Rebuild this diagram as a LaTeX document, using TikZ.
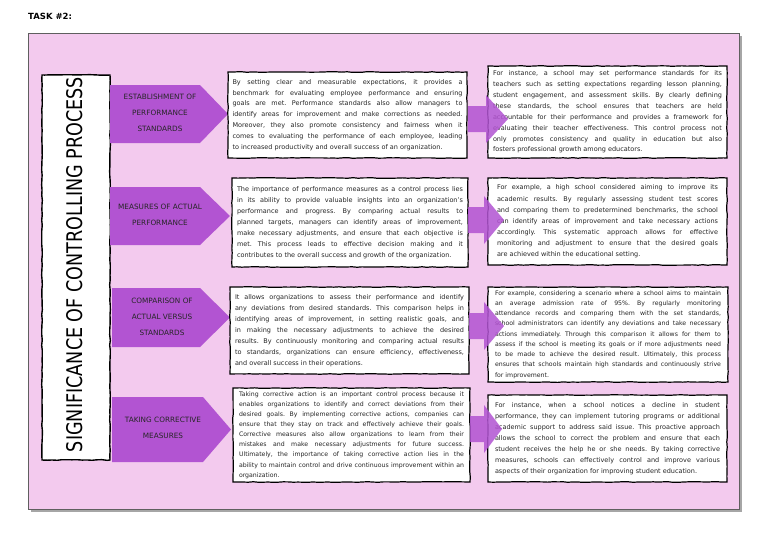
\documentclass[tikz,border=0pt]{standalone}
\usepackage{fontspec}
\usepackage{graphicx}
\setmainfont{DejaVu Sans}
\usetikzlibrary{decorations.pathmorphing}
\definecolor{bgpink}{RGB}{243,202,238}
\definecolor{arrowpurple}{RGB}{178,84,210}
\definecolor{framegray}{RGB}{95,95,95}
\newcommand\bodyfnt[2]{\fontsize{#1}{#2}\selectfont\frenchspacing\tolerance=10000\hbadness=10000\hyphenpenalty=10000\relax}
\tikzset{
  sketch/.style={decorate, decoration={random steps, segment length=5pt, amplitude=0.35pt}},
  textbox/.style={draw=black, line width=1.2pt, fill=white, sketch, align=justify, inner ysep=3pt, anchor=center, text=black!85},
  labelarrow/.style={fill=arrowpurple},
  linkarrow/.style={fill=arrowpurple, fill opacity=0.86},
  labeltext/.style={align=center, font=\fontsize{7.3}{16}\selectfont, text=black!85, inner sep=0pt},
}
\begin{document}
\begin{tikzpicture}[x=1pt,y=-1pt]
\pgfmathsetseed{42}
\useasboundingbox (0,0) rectangle (768,544);
% title
\node[anchor=west, font=\bfseries\fontsize{8.5}{10}\selectfont, inner sep=0pt] (task) at (28,16) {TASK \#2:};
% frame
\fill[gray!70] (30.5,35.5) rectangle (741.5,511.5);
\draw[fill=bgpink, draw=framegray, line width=1pt] (28,33) rectangle (739.5,509.5);
% vertical title box
\node[draw=black, line width=1.4pt, fill=white, sketch, minimum width=68pt, minimum height=385pt, inner sep=0pt] (vbox) at (76,267.5) {};
\node[rotate=90, inner sep=0pt] (vtitle) at (75,264.5) {\resizebox{375pt}{16pt}{SIGNIFICANCE OF CONTROLLING PROCESS}};
% left label arrows
\fill[labelarrow] (110,85) -- (200,85) -- (228,114) -- (200,143) -- (110,143) -- cycle;
\node[labeltext] (l1) at (160,113) {ESTABLISHMENT OF\\PERFORMANCE\\STANDARDS};
\fill[labelarrow] (110,187) -- (200,187) -- (230,216) -- (200,245) -- (110,245) -- cycle;
\node[labeltext] (l2) at (160,215) {MEASURES OF ACTUAL\\PERFORMANCE};
\fill[labelarrow] (112,288) -- (200,288) -- (230,317.5) -- (200,347) -- (112,347) -- cycle;
\node[labeltext] (l3) at (162,317) {COMPARISON OF\\ACTUAL VERSUS\\STANDARDS};
\fill[labelarrow] (112,397) -- (203,397) -- (231,429.5) -- (203,462) -- (112,462) -- cycle;
\node[labeltext] (l4) at (163,427.5) {TAKING CORRECTIVE\\MEASURES};
% middle boxes
\node[textbox, text width=230pt, inner xsep=4.5pt, minimum height=86pt, font={\bodyfnt{6.5}{10.8}}] (m1) at (347.5,115) {By setting clear and measurable expectations, it provides a\linebreak
benchmark for evaluating employee performance and ensuring\linebreak
goals are met. Performance standards also allow managers to\linebreak
identify areas for improvement and make corrections as needed.\linebreak
Moreover, they also promote consistency and fairness when it\linebreak
comes to evaluating the performance of each employee, leading\linebreak
to increased productivity and overall success of an organization.};
\node[textbox, text width=226pt, inner xsep=5pt, minimum height=89pt, font={\bodyfnt{6.5}{11}}] (m2) at (350,222.5) {The importance of performance measures as a control process lies\linebreak
in its ability to provide valuable insights into an organization's\linebreak
performance and progress. By comparing actual results to\linebreak
planned targets, managers can identify areas of improvement,\linebreak
make necessary adjustments, and ensure that each objective is\linebreak
met. This process leads to effective decision making and it\linebreak
contributes to the overall success and growth of the organization.};
\node[textbox, text width=229pt, inner xsep=5pt, minimum height=87pt, font={\bodyfnt{6.5}{11}}] (m3) at (349.5,330.5) {It allows organizations to assess their performance and identify\linebreak
any deviations from desired standards. This comparison helps in\linebreak
identifying areas of improvement, in setting realistic goals, and\linebreak
in making the necessary adjustments to achieve the desired\linebreak
results. By continuously monitoring and comparing actual results\linebreak
to standards, organizations can ensure efficiency, effectiveness,\linebreak
and overall success in their operations.};
\node[textbox, text width=225pt, inner xsep=6pt, minimum height=94pt, font={\bodyfnt{6.2}{10.1}}] (m4) at (351.5,435) {Taking corrective action is an important control process because it\linebreak
enables organizations to identify and correct deviations from their\linebreak
desired goals. By implementing corrective actions, companies can\linebreak
ensure that they stay on track and effectively achieve their goals.\linebreak
Corrective measures also allow organizations to learn from their\linebreak
mistakes and make necessary adjustments for future success.\linebreak
Ultimately, the importance of taking corrective action lies in the\linebreak
ability to maintain control and drive continuous improvement within an\linebreak
organization.};
% right boxes
\node[textbox, text width=229pt, inner xsep=5pt, minimum height=92pt, font={\bodyfnt{6.5}{10.9}}] (r1) at (607.5,112) {For instance, a school may set performance standards for its\linebreak
teachers such as setting expectations regarding lesson planning,\linebreak
student engagement, and assessment skills. By clearly defining\linebreak
these standards, the school ensures that teachers are held\linebreak
accountable for their performance and provides a framework for\linebreak
evaluating their teacher effectiveness. This control process not\linebreak
only promotes consistency and quality in education but also\linebreak
fosters professional growth among educators.};
\node[textbox, text width=221pt, inner xsep=9pt, minimum height=87pt, font={\bodyfnt{6.5}{11.1}}] (r2) at (607.5,221.5) {For example, a high school considered aiming to improve its\linebreak
academic results. By regularly assessing student test scores\linebreak
and comparing them to predetermined benchmarks, the school\linebreak
can identify areas of improvement and take necessary actions\linebreak
accordingly. This systematic approach allows for effective\linebreak
monitoring and adjustment to ensure that the desired goals\linebreak
are achieved within the educational setting.};
\node[textbox, text width=226pt, inner xsep=7pt, minimum height=95pt, font={\bodyfnt{6.2}{10.25}}] (r3) at (608,334.5) {For example, considering a scenario where a school aims to maintain\linebreak
an average admission rate of 95\%. By regularly monitoring\linebreak
attendance records and comparing them with the set standards,\linebreak
school administrators can identify any deviations and take necessary\linebreak
actions immediately. Through this comparison it allows for them to\linebreak
assess if the school is meeting its goals or if more adjustments need\linebreak
to be made to achieve the desired result. Ultimately, this process\linebreak
ensures that schools maintain high standards and continuously strive\linebreak
for improvement.};
\node[textbox, text width=225pt, inner xsep=7pt, minimum height=87pt, font={\bodyfnt{6.5}{10.9}}] (r4) at (607.5,438.5) {For instance, when a school notices a decline in student\linebreak
performance, they can implement tutoring programs or additional\linebreak
academic support to address said issue. This proactive approach\linebreak
allows the school to correct the problem and ensure that each\linebreak
student receives the help he or she needs. By taking corrective\linebreak
measures, schools can effectively control and improve various\linebreak
aspects of their organization for improving student education.};
% link arrows between middle and right boxes
\fill[linkarrow] (468,106) -- (486,106) -- (486,95) -- (508,119) -- (486,143) -- (486,132) -- (468,132) -- cycle;
\fill[linkarrow] (468,207) -- (484,207) -- (484,196) -- (504,220) -- (484,244) -- (484,233) -- (468,233) -- cycle;
\fill[linkarrow] (469,313) -- (484,313) -- (484,302) -- (504,326) -- (484,350) -- (484,339) -- (469,339) -- cycle;
\fill[linkarrow] (470,416) -- (484,416) -- (484,405) -- (502,429) -- (484,453) -- (484,442) -- (470,442) -- cycle;
\end{tikzpicture}
\end{document}
